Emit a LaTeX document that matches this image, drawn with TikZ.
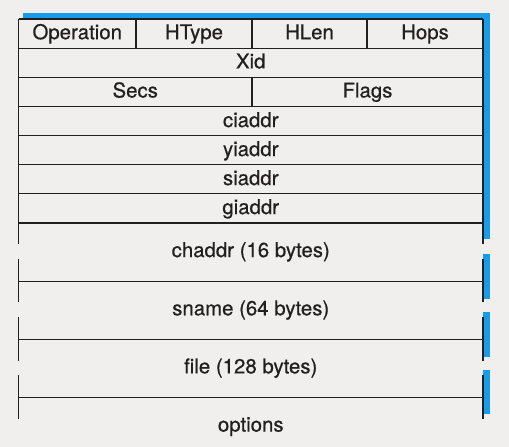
\documentclass[tikz,border=0pt]{standalone}
\usepackage{fontspec}
\setmainfont[FakeBold=0.6]{TeX Gyre Heros}
\newfontfamily\fieldfont[FakeBold=0.6]{TeX Gyre Heros}
\definecolor{bg}{RGB}{241,239,237}
\definecolor{shadowblue}{RGB}{22,156,232}
\definecolor{ink}{RGB}{35,31,32}
\begin{document}
\begin{tikzpicture}[x=1bp,y=-1bp,
  field/.style={anchor=base, text=ink, font=\fieldfont\fontsize{20.4bp}{24bp}\selectfont, inner sep=0pt},
  rule/.style={draw=ink, line width=1.1bp},
  shade/.style={fill=shadowblue}]
\fill[bg] (0,0) rectangle (509,447);
\useasboundingbox (0,0) rectangle (509,447);
% blue shadow
\fill[shade] (23,13.5) rectangle (490,19);
\fill[shade] (483,13.5) rectangle (490,239);
\fill[shade] (483,254) rectangle (490,299);
\fill[shade] (483,312) rectangle (490,357);
\fill[shade] (483,370) rectangle (490,414);
% side walls, broken in the tall rows
\foreach \x in {18.5,483}{
  \draw[rule] (\x,19) -- (\x,244);
  \draw[rule] (\x,259) -- (\x,302);
  \draw[rule] (\x,317) -- (\x,361);
  \draw[rule] (\x,375) -- (\x,419);
}
% horizontal rules
\foreach \y in {19,48.15,77.3,106.45,135.6,164.75,193.9,223.05,281.1,339.2,397.3}{
  \draw[rule] (18.5,\y) -- (483,\y);
}
% column dividers
\foreach \x in {136,252,367}{ \draw[rule] (\x,19) -- (\x,48.15); }
\draw[rule] (252,77.3) -- (252,106.45);
% fields
\node[field] (op)    at (77.25,39.2)  {Operation};
\node[field] (htype) at (194,39.2)    {HType};
\node[field] (hlen)  at (309.5,39.2)  {HLen};
\node[field] (hops)  at (425,39.2)    {Hops};
\node[field] (xid)   at (250.75,68.4)   {Xid};
\node[field] (secs)  at (135.25,97.5) {Secs};
\node[field] (flags) at (367.5,97.5)  {Flags};
\node[field] (ci)    at (250.75,127.1) {ciaddr};
\node[field] (yi)    at (250.75,156.1) {yiaddr};
\node[field] (si)    at (250.75,185.1) {siaddr};
\node[field] (gi)    at (250.75,214.1) {giaddr};
\node[field] (ch)    at (250.75,257.1) {chaddr (16 bytes)};
\node[field] (sn)    at (250.75,315.3) {sname (64 bytes)};
\node[field] (fi)    at (250.75,373.4) {file (128 bytes)};
\node[field] (opt)   at (250.75,431.6) {options};
\end{tikzpicture}
\end{document}
